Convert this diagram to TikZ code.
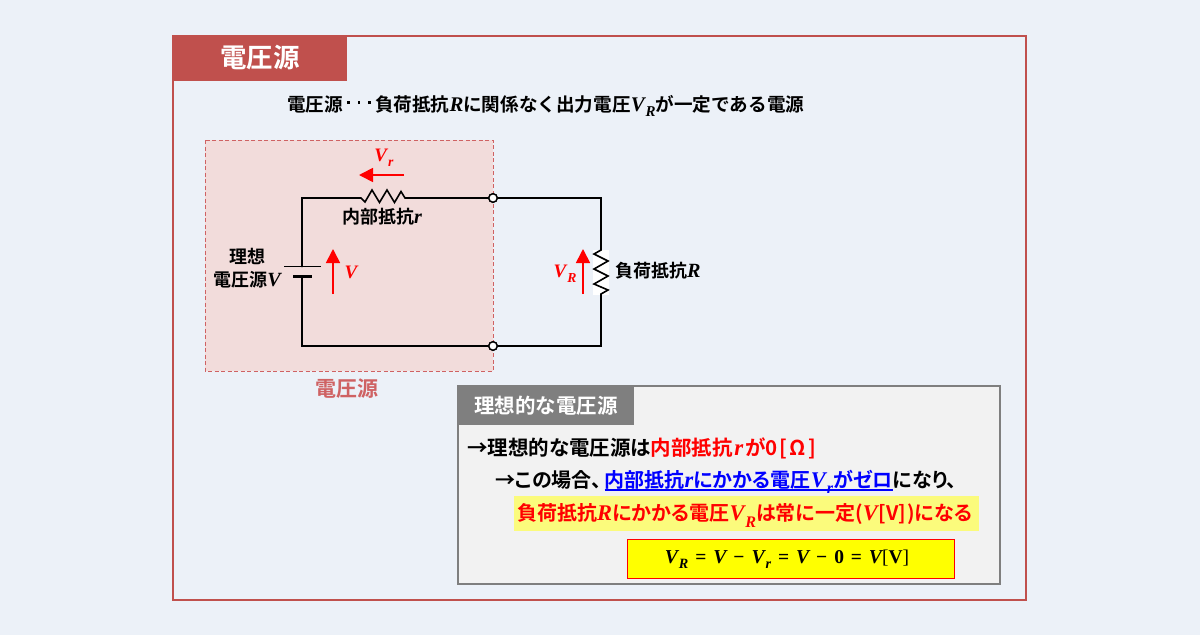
\documentclass[tikz,border=0pt]{standalone}
\usepackage{fontspec}
\setmainfont{Noto Sans CJK JP}[BoldFont={Noto Sans CJK JP Bold}]
\newfontfamily\jpp{Noto Sans CJK JP Bold}[RawFeature=+palt]
\newfontfamily\latn{Liberation Serif}
\usetikzlibrary{arrows.meta}
\definecolor{bgc}{HTML}{ECF1F8}
\definecolor{brick}{HTML}{C0504D}
\definecolor{brickt}{HTML}{CF6263}
\definecolor{pinkc}{HTML}{F2DCDB}
\definecolor{grayc}{HTML}{7F7F7F}
\definecolor{panel}{HTML}{F2F2F2}
\definecolor{hl}{HTML}{FBFB7C}
\definecolor{fy}{HTML}{FFFF00}
\definecolor{rd}{HTML}{FF0000}
\definecolor{bl}{HTML}{0000FF}
\newcommand{\mv}[1]{{\latn\bfseries\itshape\fontsize{1.12em}{1.2em}\selectfont #1}}
\newcommand{\msub}[2]{{\latn\bfseries\itshape\fontsize{1.12em}{1.2em}\selectfont #1\kern1pt\raisebox{-0.28em}{\fontsize{0.72em}{0.8em}\selectfont #2}}}
\newcommand{\dotm}{\makebox[10.7pt]{\raisebox{.38em}{\rule{2.6pt}{2.6pt}}}}
\newcommand{\eqf}[1]{{\latn\fontsize{19.5}{22}\selectfont #1}}
\newcommand{\eqm}[1]{{\latn\mdseries\fontsize{19.5}{22}\selectfont #1}}
\newsavebox{\ulb}
\newcommand{\ulbox}[1]{\sbox{\ulb}{#1}\rlap{\raisebox{-3.6pt}{\rule{\wd\ulb}{1.5pt}}}\usebox{\ulb}}
\tikzset{
 x=1pt,y=-1pt,
 wire/.style={draw=black,line width=1.6pt,line join=miter},
 varrow/.style={draw=rd,line width=1.7pt,-{Triangle[length=14pt,width=14pt]}},
 junct/.style={circle,draw=black,fill=white,line width=1.4pt,minimum size=8.5pt,inner sep=0pt},
 lbl/.style={inner sep=0pt,font=\bfseries\fontsize{18}{20}\selectfont},
 ln/.style={inner sep=0pt,anchor=west,font=\jpp\fontsize{20.5}{24}\selectfont},
 lnb/.style={inner sep=0pt,anchor=west,font=\jpp\fontsize{20}{24}\selectfont},
}
\begin{document}
\begin{tikzpicture}
\useasboundingbox (0,0) rectangle (1200,635);
\fill[bgc] (0,0) rectangle (1200,635);
% outer frame
\draw[brick,line width=2.6pt] (173,36) rectangle (1026,600);
\fill[brick] (172,35) rectangle (347,81);
\node[inner sep=0pt,text=white,font=\bfseries\fontsize{26.5}{30}\selectfont] (title) at (260,58) {電圧源};
\node[inner sep=0pt,anchor=west,font=\bfseries\fontsize{18.6}{22}\selectfont] (sub) at (287,106) {電圧源\dotm\dotm\dotm 負荷抵抗\mv{R}に関係なく出力電圧\msub{V}{R}が一定である電源};
% source box
\fill[pinkc] (205,140) rectangle (493,371);
\draw[brickt,line width=1pt,dash pattern=on 4pt off 2.5pt] (205,140) rectangle (493,371);
% circuit
\coordinate (tl) at (302,198);
\coordinate (ra) at (361,198);
\coordinate (rb) at (405,198);
\coordinate (tr) at (601,198);
\coordinate (la) at (601,250);
\coordinate (lb) at (601,296);
\coordinate (br) at (601,346);
\coordinate (bl) at (302,346);
\coordinate (pa) at (302,267);
\coordinate (pb) at (302,276);
\fill[white] (593,250) rectangle (609,295);
\node[junct] (j1) at (493,198) {};
\node[junct] (j2) at (493,346) {};
\draw[wire] (pa) -- (tl) -- (ra) -- ++(4,4) -- ++(7,-12) -- ++(7.5,12.5) -- ++(7.5,-12.5) -- ++(7.5,12.5) -- ++(6.5,-11) -- ++(4,6.5) -- (rb) -- (j1);
\draw[wire] (j1) -- (tr) -- (la) -- ++(-7,4) -- ++(14,7) -- ++(-14,8) -- ++(14,7) -- ++(-14,8) -- ++(14,6) -- ++(-7,4) -- (lb) -- (br) -- (j2);
\draw[wire] (j2) -- (bl) -- (pb);
\node[junct] at (j1) {};
\node[junct] at (j2) {};
\draw[black,line width=1.5pt] (284,266.5) -- (321,266.5);
\draw[black,line width=3pt] (293,276) -- (312,276);
% arrows
\coordinate (a1s) at (333,294); \coordinate (a1e) at (333,249);
\coordinate (a2s) at (583,294); \coordinate (a2e) at (583,249);
\coordinate (a3s) at (404,175); \coordinate (a3e) at (359,175);
\draw[varrow] (a1s) -- (a1e);
\draw[varrow] (a2s) -- (a2e);
\draw[varrow] (a3s) -- (a3e);
\node[inner sep=0pt,text=rd,font=\fontsize{17}{20}\selectfont] (vr) at (384,158) {\msub{V}{r}};
\node[inner sep=0pt,text=rd,font=\fontsize{17}{20}\selectfont] (v) at (351,272) {\mv{V}};
\node[inner sep=0pt,text=rd,font=\fontsize{17}{20}\selectfont] (vR) at (565,274) {\msub{V}{R}};
% labels
\node[lbl] (rin) at (382,217) {内部抵抗\mv{r}};
\node[lbl] (id1) at (247,256) {理想};
\node[lbl] (id2) at (247,280) {電圧源\mv{V}};
\node[lbl,anchor=west] (rl) at (615,271) {負荷抵抗\mv{R}};
\node[inner sep=0pt,text=brickt,font=\bfseries\fontsize{21}{24}\selectfont] (src) at (347,389) {電圧源};
% lower panel
\draw[grayc,fill=panel,line width=2.6pt] (458,386) rectangle (1000,584);
\fill[grayc] (457,385) rectangle (634,425);
\node[inner sep=0pt,text=white,font=\bfseries\fontsize{20.5}{24}\selectfont] (pt) at (546,406) {理想的な電圧源};
\node[ln] (l1) at (467,448) {{\mdseries →}理想的な電圧源は\textcolor{rd}{内部抵抗\kern1.5pt\mv{r}\kern2pt が0\kern1.5pt[\kern2.5pt Ω\kern2.5pt]}};
\node[lnb] (l2) at (495,481.5) {{\mdseries →}この場合、\kern3pt\textcolor{bl}{\ulbox{内部抵抗\mv{r}にかかる電圧\msub{V}{r}がゼロ}}になり、};
\fill[hl] (514,496) rectangle (979,531);
\node[lnb,text=rd] (l3) at (517,515.5) {負荷抵抗\mv{R}にかかる電圧\msub{V}{R}は常に一定(\mv{V}\kern1pt[V]\kern1pt)になる};
\draw[rd,fill=fy,line width=1pt] (627,539) rectangle (954,578);
\node[inner sep=0pt,font=\bfseries\fontsize{17.6}{22}\selectfont] (eq) at (787,559) {\msub{V}{R} \,\eqf{=}\, \mv{V} \,\eqf{−}\, \msub{V}{r} \,\eqf{=}\, \mv{V} \,\eqf{−}\, \eqf{0} \,\eqf{=}\, \mv{V}\eqm{[}\eqf{V}\eqm{]}};
\end{tikzpicture}
\end{document}
